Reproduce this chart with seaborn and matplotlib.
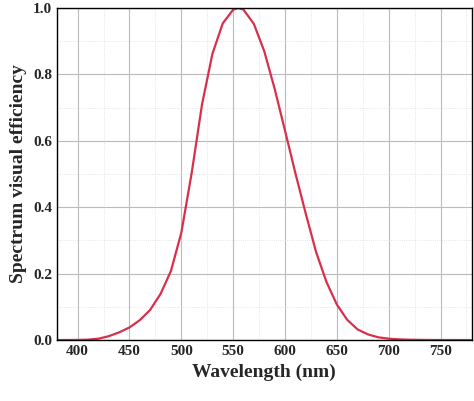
import matplotlib
matplotlib.use("Agg")
import matplotlib.pyplot as plt
import seaborn as sns
import pandas as pd
from matplotlib.ticker import MultipleLocator

wavelength = [380,390,400,410,420,430,440,450,460,470,480,490,500,510,520,530,540,550,555,560,570,580,590,600,610,620,630,640,650,660,670,680,690,700,710,720,730,740,750,760,770,780]
efficiency = [0.00004,0.00012,0.0004,0.0012,0.004,0.0116,0.023,0.038,0.06,0.091,0.139,0.208,0.323,0.503,0.71,0.862,0.954,0.995,1.0,0.995,0.952,0.87,0.757,0.631,0.503,0.381,0.265,0.175,0.107,0.061,0.032,0.017,0.0082,0.0041,0.0021,0.00105,0.00052,0.00025,0.00012,0.00006,0.00003,0.000015]
df = pd.DataFrame({"w": wavelength, "v": efficiency})

sns.set_style("white")
plt.rcParams["font.family"] = ["Liberation Serif", "DejaVu Serif"]
plt.rcParams["font.weight"] = "bold"

fig = plt.figure(figsize=(4.74, 4.01), dpi=100)
ax = fig.add_axes([0.12, 0.152, 0.875, 0.828])
sns.lineplot(data=df, x="w", y="v", ax=ax, color="#d8304a", linewidth=1.6)
ax.set_xlim(380, 780)
ax.set_ylim(0, 1.0)
ax.xaxis.set_major_locator(MultipleLocator(50))
ax.xaxis.set_minor_locator(MultipleLocator(25))
ax.yaxis.set_major_locator(MultipleLocator(0.2))
ax.yaxis.set_minor_locator(MultipleLocator(0.1))
ax.grid(which="major", color="#bbbbbb", linewidth=0.8)
ax.grid(which="minor", color="#dddddd", linewidth=0.6, linestyle=":")
ax.tick_params(which="major", direction="in", length=4, labelsize=11)
ax.tick_params(which="minor", direction="in", length=2)
for l in ax.get_xticklabels() + ax.get_yticklabels():
    l.set_fontweight("bold")
for s in ax.spines.values():
    s.set_color("black"); s.set_linewidth(1.0)
ax.set_xlabel("Wavelength (nm)", fontsize=14, fontweight="bold")
ax.set_ylabel("Spectrum visual efficiency", fontsize=14, fontweight="bold")
fig.savefig("out.png", dpi=100)
